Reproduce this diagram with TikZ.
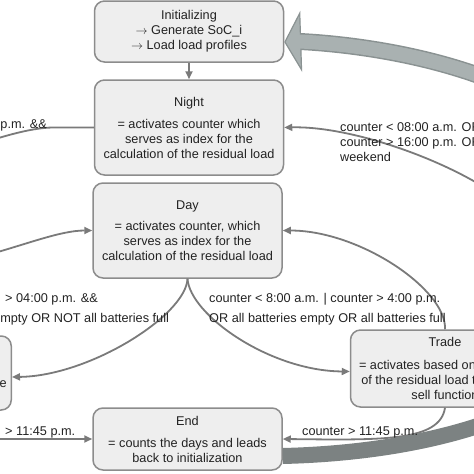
\documentclass[tikz,border=0pt]{standalone}
\usepackage{fontspec}
\setmainfont{Liberation Sans}
\usetikzlibrary{arrows.meta,positioning}
\definecolor{boxfill}{HTML}{EEEEEE}
\definecolor{boxline}{HTML}{8C8C8C}
\definecolor{edgegray}{HTML}{7A7A7A}
\definecolor{bandfill}{HTML}{A9B1B1}
\definecolor{bandline}{HTML}{8A9292}
\definecolor{banddark}{HTML}{7C8282}
\definecolor{txt}{HTML}{222222}

\tikzset{
  statebox/.style={draw=boxline, fill=boxfill, line width=1.5pt, rounded corners=10pt,
    align=center, minimum width=189pt, inner sep=4pt, text=txt},
  flow/.style={draw=edgegray, line width=1.8pt, -{Triangle[length=8pt,width=7pt]}},
  cond/.style={inner sep=0pt, align=left, text=txt},
}

\begin{document}
\begin{tikzpicture}[x=1pt,y=-1pt,font=\fontsize{12.7}{15}\selectfont]
\useasboundingbox (0,0) rectangle (474,474);

% States
\node[statebox, minimum height=61pt] (init) at (189,31.5)
  {Initializing\\$\rightarrow$ Generate SoC\_i\\$\rightarrow$ Load load profiles};
\node[statebox, minimum height=95pt] (night) at (189,127.5)
  {Night\\[7pt]= activates counter which\\serves as index for the\\calculation of the residual load};
\node[statebox, minimum height=95pt] (day) at (187.5,230.5)
  {Day\\[6pt]= activates counter, which\\serves as index for the\\calculation of the residual load};
\node[statebox, minimum height=62pt] (end) at (187.5,439)
  {End\\[7pt]= counts the days and leads\\back to initialization};
\node[statebox, minimum height=77pt] (trade) at (445,368.5)
  {Trade\\[8pt]= activates based on the value\\of the residual load the buy or\\sell function};
\node[statebox, minimum height=74pt, text width=180pt, align=right, inner xsep=3pt,
  anchor=east] (charge) at (12,373) {\mbox{}\\[15pt]e};

% Free ends of the connectors that leave the picture
\coordinate (nightleft) at (-30,147);
\coordinate (nightright) at (490,191);
\coordinate (dayleft) at (-20,257);
\coordinate (endleft) at (-20,439);
\coordinate (bigturn) at (640,250);

% Connectors
\draw[flow] (init) -- (night);
\draw[flow, -] (night.west) -- ++(-40,0) .. controls +(-25,0) and +(25,-8) .. (nightleft);
\draw[flow] (nightright) .. controls (440,158) and (350,126) .. (night.east);
\draw[flow] (dayleft) .. controls (25,245) and (60,230.5) .. (day.west);
\draw[flow] (trade.north) .. controls (447,290) and (360,230.5) .. (day.east);
\draw[flow] (day.south) .. controls (186,315) and (90,376) .. ([yshift=-4pt]charge.east);
\draw[flow] (day.south) .. controls (190,315) and (270,371) .. ([yshift=-3pt]trade.west);
\draw[flow] (endleft) -- (end.west);
\draw[flow] (trade.south) .. controls (440,442) and (380,440) .. (end.east);

% Big loop back from End to Initializing
\draw[banddark, line width=16pt] ([yshift=-17pt]end.east) .. controls (450,452) and (640,400) .. (bigturn);
\draw[bandline, line width=17pt, -{Triangle[length=17pt,width=61pt,line width=1.2pt,fill=bandfill]}]
  (bigturn) .. controls (630,80) and (390,46) .. (300,41.5) -- ([yshift=-10.5pt]init.east);
\draw[bandfill, line width=14pt, shorten >=15pt]
  (bigturn) .. controls (630,80) and (390,46) .. (300,41.5) -- ([yshift=-10.5pt]init.east);

% Conditions
\node[cond, anchor=east] (cnightleft) at (47,125) {p.m. \&\&};
\node[cond, anchor=west] (cnightright) at (340,142)
  {counter < 08:00 a.m. OR\\counter > 16:00 p.m. OR\\weekend};
\node[cond, anchor=west] (cdayleft) at (-7,309.4)
  {\hspace*{12pt}> 04:00 p.m. \&\&\\[5pt]empty OR NOT all batteries full};
\node[cond, anchor=west] (cdayright) at (209,309.3)
  {counter < 8:00 a.m. | counter > 4:00 p.m.\\[5pt]OR all batteries empty OR all batteries full};
\node[cond, anchor=west] (cendleft) at (5,432) {> 11:45 p.m.};
\node[cond, anchor=west] (cendright) at (302,432) {counter > 11:45 p.m.};
\end{tikzpicture}
\end{document}
